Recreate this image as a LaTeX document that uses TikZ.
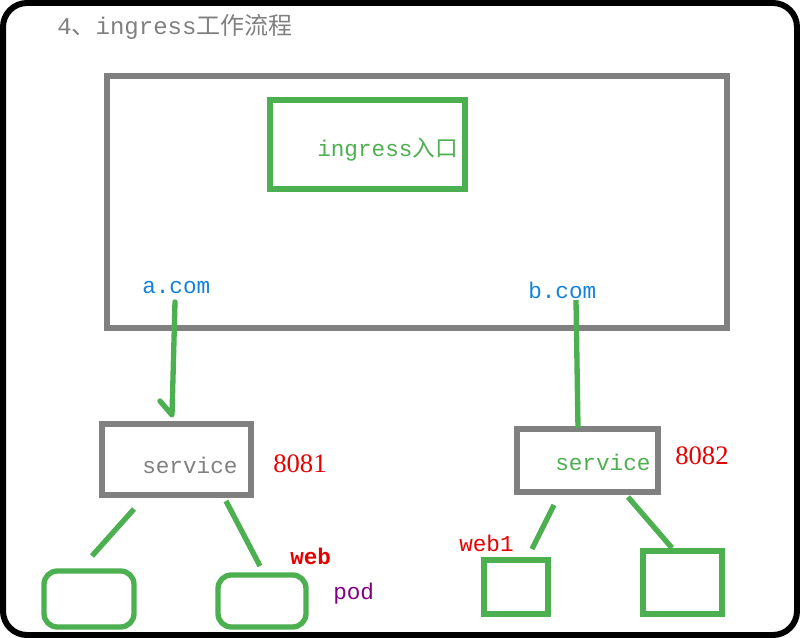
\documentclass[tikz,border=0pt]{standalone}
\usepackage{fontspec}
\setmainfont{Liberation Mono}
\newfontfamily\cjk{Noto Sans CJK SC}
\definecolor{gr}{RGB}{76,175,80}
\definecolor{gy}{RGB}{128,128,128}
\definecolor{bl}{RGB}{20,130,220}
\definecolor{rd}{RGB}{230,0,0}
\definecolor{pu}{RGB}{128,0,128}
\begin{document}
\begin{tikzpicture}[x=0.75pt,y=-0.75pt,
  gbox/.style={draw=gy,line width=4.5pt},
  grbox/.style={draw=gr,line width=4pt},
  gline/.style={draw=gr,line width=4pt},
  lbl/.style={inner sep=0,font=\fontsize{17}{17}\selectfont}]
\useasboundingbox (0,0) rectangle (800,638);
\draw[line width=4.5pt,rounded corners=18] (3,3) rectangle (797,635);
\node[lbl,anchor=west,text=gy,font=\fontsize{18}{18}\selectfont] (title) at (57,27) {4{\cjk 、}ingress{\cjk 工作流程}};
\draw[gbox] (107,76) rectangle (727,328);
\draw[grbox] (270,100) rectangle (465,189);
\node[lbl,anchor=west,text=gr] (ing) at (317,150) {ingress{\cjk 入口}};
\node[lbl,anchor=west,text=bl] (a) at (142,288) {a.com};
\node[lbl,anchor=west,text=bl] (b) at (528,290) {b.com};
\draw[gbox] (102,424) rectangle (251,495);
\node[lbl,anchor=west,text=gy] (s1) at (142,465) {service};
\draw[gbox] (517,429) rectangle (658,492);
\node[lbl,anchor=west,text=gr] (s2) at (555,462) {service};
\node[lbl,anchor=west,text=rd,font=\fontsize{20}{20}\selectfont\setmainfont{Liberation Serif}] (p1) at (273,464) {8081};
\node[lbl,anchor=west,text=rd,font=\fontsize{20}{20}\selectfont\setmainfont{Liberation Serif}] (p2) at (675,456) {8082};
\coordinate (a1) at (175,302); \coordinate (a2) at (172,415); \coordinate (a3) at (160,401);
\draw[gline,line cap=round,line join=round] (a1) -- (a2) -- (a3);
\coordinate (b1) at (576,300); \coordinate (b2) at (578,428);
\draw[gline] (b1) -- (b2);
\coordinate (l1) at (134,509); \coordinate (l2) at (92,556);
\coordinate (l3) at (226,501); \coordinate (l4) at (260,566);
\coordinate (l5) at (554,505); \coordinate (l6) at (532,549);
\coordinate (l7) at (628,497); \coordinate (l8) at (672,548);
\draw[gline] (l1)--(l2); \draw[gline] (l3)--(l4);
\draw[gline] (l5)--(l6); \draw[gline] (l7)--(l8);
\draw[grbox,rounded corners=10] (44,571) rectangle (134,627);
\draw[grbox,rounded corners=10] (218,575) rectangle (306,627);
\draw[grbox] (484,560) rectangle (548,614);
\draw[grbox] (643,551) rectangle (722,614);
\node[lbl,anchor=west,text=rd,font=\fontsize{17}{17}\selectfont\bfseries] (w) at (290,556) {web};
\node[lbl,anchor=west,text=pu] (pod) at (333,594) {pod};
\node[lbl,anchor=west,text=rd] (w1) at (459,543) {web1};
\end{tikzpicture}
\end{document}
